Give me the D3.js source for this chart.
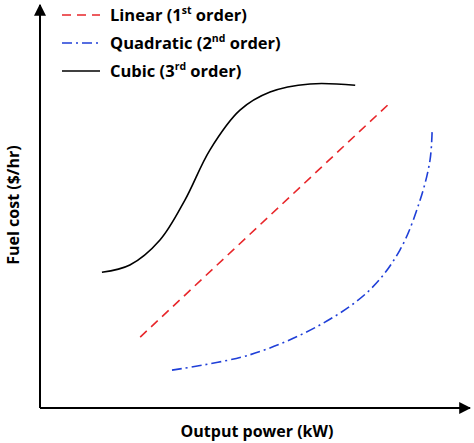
<html>
<head>
<script src="https://d3js.org/d3.v7.min.js"></script>
</head>
<body style="margin:0">
<svg id="chart" width="474" height="443"></svg>
<script>
  // values (arbitrary units 0..100)
  const linearX = [23.3, 81.4];
  const linearY = [17.6, 75.7];
  const quadX = [30.7, 48.8, 65.1, 76.7, 83.7, 88.4, 90.7, 91.2];
  const quadY = [9.4, 13.2, 20.6, 29.3, 39.2, 51.6, 61.5, 69.0];
  const cubicX = [14.4, 20.9, 27.9, 33.7, 39.5, 46.5, 53.5, 62.8, 73.3];
  const cubicY = [33.7, 35.5, 41.7, 51.6, 64.0, 73.9, 78.4, 80.4, 80.1];
  const legendLabels = [["Linear (1", "st", " order)"], ["Quadratic (2", "nd", " order)"], ["Cubic (3", "rd", " order)"]];

  const svg = d3.select("#chart");
  const font = "'Open Sans', sans-serif";
  const x = d3.scaleLinear().domain([0, 100]).range([40, 470]);
  const y = d3.scaleLinear().domain([0, 100]).range([408, 5]);

  svg.append("defs").append("marker").attr("id", "arr")
    .attr("viewBox", "0 0 10 10").attr("refX", 9).attr("refY", 5)
    .attr("markerWidth", 6).attr("markerHeight", 6).attr("orient", "auto")
    .append("path").attr("d", "M0,0L10,5L0,10z").attr("fill", "black");

  // axes with arrows
  svg.append("line").attr("x1", x(0)).attr("y1", y(0)).attr("x2", x(0)).attr("y2", y(100))
    .attr("stroke", "black").attr("stroke-width", 2).attr("marker-end", "url(#arr)");
  svg.append("line").attr("x1", x(0)).attr("y1", y(0)).attr("x2", x(100)).attr("y2", y(0))
    .attr("stroke", "black").attr("stroke-width", 2).attr("marker-end", "url(#arr)");

  const line = d3.line().x(d => x(d[0])).y(d => y(d[1])).curve(d3.curveCatmullRom);
  const series = [
    { xs: linearX, ys: linearY, color: "#e8262a", dash: "9,6" },
    { xs: quadX, ys: quadY, color: "#1f3fd8", dash: "10,4,2,4" },
    { xs: cubicX, ys: cubicY, color: "black", dash: null }
  ];
  series.forEach(s => {
    svg.append("path").datum(d3.zip(s.xs, s.ys)).attr("d", line)
      .attr("fill", "none").attr("stroke", s.color).attr("stroke-width", 1.6)
      .attr("stroke-dasharray", s.dash);
  });

  // legend
  series.forEach((s, i) => {
    const ly = 15 + i * 28;
    svg.append("line").attr("x1", 62).attr("x2", 100).attr("y1", ly).attr("y2", ly)
      .attr("stroke", s.color).attr("stroke-width", 1.6).attr("stroke-dasharray", s.dash);
    const t = svg.append("text").attr("x", 110).attr("y", ly + 6)
      .attr("font-family", font).attr("font-weight", "bold").attr("font-size", 16.5);
    const parts = legendLabels[i];
    t.append("tspan").text(parts[0]);
    t.append("tspan").attr("dy", -7).attr("font-size", 10.5).text(parts[1]);
    t.append("tspan").attr("dy", 7).text(parts[2]);
  });

  svg.append("text").attr("x", 257).attr("y", 437).attr("text-anchor", "middle")
    .attr("font-family", font).attr("font-weight", "bold").attr("font-size", 16)
    .text("Output power (kW)");
  svg.append("text").attr("transform", "translate(19,205) rotate(-90)").attr("text-anchor", "middle")
    .attr("font-family", font).attr("font-weight", "bold").attr("font-size", 16)
    .text("Fuel cost ($/hr)");
</script>
</body>
</html>
